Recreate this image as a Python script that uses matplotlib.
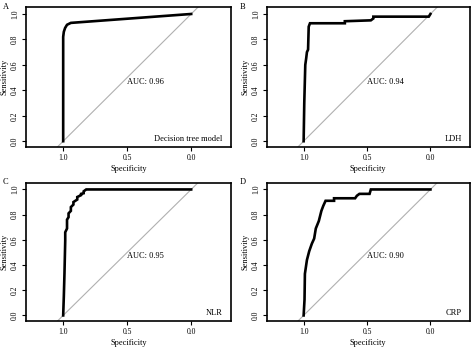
import matplotlib.pyplot as plt

plt.rcParams['font.family'] = ['Liberation Serif', 'DejaVu Serif']

# ROC 곡선 좌표 (specificity, sensitivity)
spec_a = [1.0, 1.0, 0.995, 0.985, 0.97, 0.94, 0.0]
sens_a = [0.0, 0.82, 0.86, 0.89, 0.915, 0.93, 1.0]

spec_b = [1.0, 0.995, 0.987, 0.98, 0.974, 0.965, 0.96, 0.95, 0.675, 0.675, 0.47, 0.45, 0.45, 0.013, 0.0]
sens_b = [0.0, 0.3, 0.6, 0.65, 0.7, 0.72, 0.9, 0.927, 0.927, 0.943, 0.95, 0.965, 0.979, 0.979, 1.0]

spec_c = [1.0, 0.995, 0.99, 0.984, 0.984, 0.97, 0.97, 0.958, 0.958, 0.94, 0.94, 0.92, 0.92,
          0.89, 0.89, 0.86, 0.86, 0.84, 0.84, 0.82, 0.0]
sens_c = [0.0, 0.15, 0.33, 0.595, 0.66, 0.69, 0.76, 0.78, 0.81, 0.83, 0.86, 0.88, 0.90,
          0.92, 0.94, 0.955, 0.965, 0.97, 0.985, 1.0, 1.0]

spec_d = [1.0, 0.993, 0.99, 0.974, 0.956, 0.935, 0.917, 0.904, 0.88, 0.86, 0.845, 0.827,
          0.76, 0.76, 0.594, 0.58, 0.56, 0.48, 0.47, 0.0]
sens_d = [0.0, 0.125, 0.33, 0.44, 0.51, 0.57, 0.61, 0.69, 0.75, 0.83, 0.87, 0.91,
          0.91, 0.93, 0.93, 0.95, 0.965, 0.965, 1.0, 1.0]

auc_labels = ['AUC: 0.96', 'AUC: 0.94', 'AUC: 0.95', 'AUC: 0.90']
model_names = ['Decision tree model', 'LDH', 'NLR', 'CRP']
panel_letters = ['A', 'B', 'C', 'D']

fig = plt.figure(figsize=(4.74, 3.49), dpi=100)
boxes = [
    [0.055, 0.579, 0.432, 0.401],
    [0.563, 0.579, 0.428, 0.401],
    [0.055, 0.080, 0.432, 0.397],
    [0.563, 0.080, 0.428, 0.397],
]
letter_pos = [(0.006, 0.99), (0.506, 0.99), (0.006, 0.49), (0.506, 0.49)]
curves = [(spec_a, sens_a), (spec_b, sens_b), (spec_c, sens_c), (spec_d, sens_d)]

for i, (sx, sy) in enumerate(curves):
    ax = fig.add_axes(boxes[i])
    ax.axline((1, 0), (0, 1), color='#b0b0b0', lw=0.8)
    ax.plot(sx, sy, color='black', lw=1.9, solid_joinstyle='miter')
    ax.set_xlim(1.29, -0.31)
    ax.set_ylim(-0.045, 1.055)
    ax.set_xticks([1.0, 0.5, 0.0])
    ax.set_xticklabels(['1.0', '0.5', '0.0'])
    ax.set_yticks([0.0, 0.2, 0.4, 0.6, 0.8, 1.0])
    ax.set_yticklabels(['0.0', '0.2', '0.4', '0.6', '0.8', '1.0'], rotation=90, va='center')
    ax.tick_params(labelsize=5.5, length=3, width=0.8, pad=2)
    for sp in ax.spines.values():
        sp.set_linewidth(1.2)
    ax.set_xlabel('Specificity', fontsize=6, labelpad=2)
    ax.set_ylabel('Sensitivity', fontsize=6, labelpad=2)
    ax.text(0.5, 0.5, auc_labels[i], fontsize=6, ha='left', va='top')
    ax.text(0.96, 0.03, model_names[i], fontsize=6, ha='right', va='bottom', transform=ax.transAxes)
    fig.text(letter_pos[i][0], letter_pos[i][1], panel_letters[i], fontsize=6, va='top')

fig.savefig('out.png', dpi=100)
